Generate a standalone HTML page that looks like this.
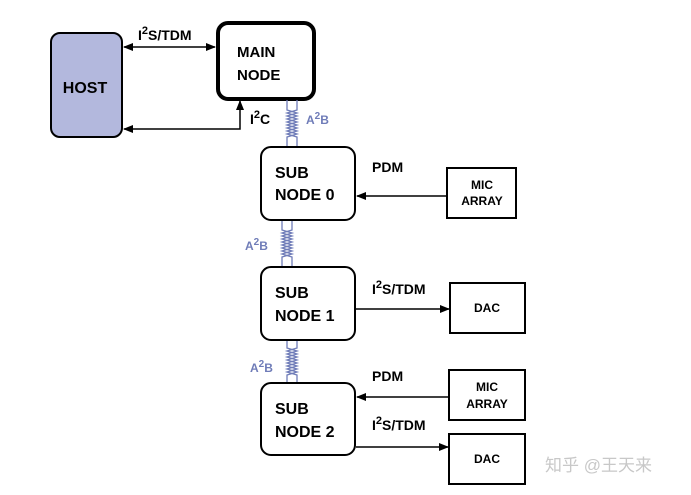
<!DOCTYPE html>
<html><head><meta charset="utf-8"><style>
html,body{margin:0;padding:0;background:#fff;}
svg{display:block;}
text{font-family:"Liberation Sans",Arial,sans-serif;font-weight:bold;}
</style></head><body>
<svg width="691" height="495" viewBox="0 0 691 495" xmlns="http://www.w3.org/2000/svg">
<defs>
<marker id="ah" markerWidth="10" markerHeight="8" refX="9" refY="4" orient="auto" markerUnits="userSpaceOnUse">
<path d="M0,0 L10,4 L0,8 z" fill="#000"/></marker>
<marker id="as" markerWidth="10" markerHeight="8" refX="1" refY="4" orient="auto" markerUnits="userSpaceOnUse">
<path d="M10,0 L0,4 L10,8 z" fill="#000"/></marker>
</defs>
<!-- HOST -->
<rect x="51" y="33" width="71" height="104" rx="9" fill="#b3b8dd" stroke="#000" stroke-width="2"/>
<text x="85" y="93" font-size="16" text-anchor="middle">HOST</text>
<!-- MAIN -->
<rect x="218" y="23" width="96" height="76" rx="10" fill="#fff" stroke="#000" stroke-width="4"/>
<text x="237" y="57" font-size="15">MAIN</text>
<text x="237" y="80" font-size="15">NODE</text>
<!-- arrows host-main -->
<line x1="124" y1="47" x2="215" y2="47" stroke="#000" stroke-width="1.5" marker-start="url(#as)" marker-end="url(#ah)"/>
<text x="138" y="40" font-size="14">I<tspan dy="-6" font-size="11">2</tspan><tspan dy="6">S/TDM</tspan></text>
<polyline points="240,101 240,129 124,129" fill="none" stroke="#000" stroke-width="1.5" marker-start="url(#as)" marker-end="url(#ah)"/>
<text x="250" y="124" font-size="14">I<tspan dy="-6" font-size="11">2</tspan><tspan dy="6">C</tspan></text>
<!-- twisted pairs -->
<g fill="none" stroke="#6f7cb8" stroke-width="1.3">
<path d="M287,100 V110 L297,113 L287,116 L297,119 L287,122 L297,125 L287,128 L297,131 L287,134 L297,137 V147"/>
<path d="M297,100 V110 L287,113 L297,116 L287,119 L297,122 L287,125 L297,128 L287,131 L297,134 L287,137 V147"/>
<path d="M282,220 V230 L292,233 L282,236 L292,239 L282,242 L292,245 L282,248 L292,251 L282,254 L292,257 V267"/>
<path d="M292,220 V230 L282,233 L292,236 L282,239 L292,242 L282,245 L292,248 L282,251 L292,254 L282,257 V267"/>
<path d="M287,340 V348 L297,351 L287,354 L297,357 L287,360 L297,363 L287,366 L297,369 L287,372 L297,375 V383"/>
<path d="M297,340 V348 L287,351 L297,354 L287,357 L297,360 L287,363 L297,366 L287,369 L297,372 L287,375 V383"/>
</g>
<g fill="#6f7cb8" font-size="12">
<text x="306" y="124">A<tspan dy="-5" font-size="10">2</tspan><tspan dy="5">B</tspan></text>
<text x="245" y="250">A<tspan dy="-5" font-size="10">2</tspan><tspan dy="5">B</tspan></text>
<text x="250" y="372">A<tspan dy="-5" font-size="10">2</tspan><tspan dy="5">B</tspan></text>
</g>
<!-- sub nodes -->
<g fill="#fff" stroke="#000" stroke-width="2">
<rect x="261" y="147" width="94" height="73" rx="10"/>
<rect x="261" y="267" width="94" height="73" rx="10"/>
<rect x="261" y="383" width="94" height="72" rx="10"/>
<rect x="447" y="168" width="69" height="50"/>
<rect x="450" y="283" width="75" height="50"/>
<rect x="449" y="370" width="76" height="50"/>
<rect x="449" y="434" width="76" height="50"/>
</g>
<g font-size="16">
<text x="275" y="178">SUB</text><text x="275" y="200">NODE 0</text>
<text x="275" y="298">SUB</text><text x="275" y="321">NODE 1</text>
<text x="275" y="414">SUB</text><text x="275" y="437">NODE 2</text>
</g>
<g font-size="12" text-anchor="middle">
<text x="482" y="189">MIC</text><text x="482" y="205">ARRAY</text>
<text x="487" y="312">DAC</text>
<text x="487" y="391">MIC</text><text x="487" y="408">ARRAY</text>
<text x="487" y="463">DAC</text>
</g>
<g stroke="#000" stroke-width="1.5">
<line x1="446" y1="196" x2="357" y2="196" marker-end="url(#ah)"/>
<line x1="356" y1="309" x2="449" y2="309" marker-end="url(#ah)"/>
<line x1="448" y1="397" x2="357" y2="397" marker-end="url(#ah)"/>
<line x1="356" y1="447" x2="448" y2="447" marker-end="url(#ah)"/>
</g>
<g font-size="14">
<text x="372" y="172">PDM</text>
<text x="372" y="294">I<tspan dy="-6" font-size="11">2</tspan><tspan dy="6">S/TDM</tspan></text>
<text x="372" y="381">PDM</text>
<text x="372" y="430">I<tspan dy="-6" font-size="11">2</tspan><tspan dy="6">S/TDM</tspan></text>
</g>
<text x="545" y="471" font-size="17" fill="#c8c8c8" style="font-family:'Liberation Sans','Noto Sans CJK SC',sans-serif;font-weight:normal">知乎 @王天来</text>
</svg>
</body></html>
